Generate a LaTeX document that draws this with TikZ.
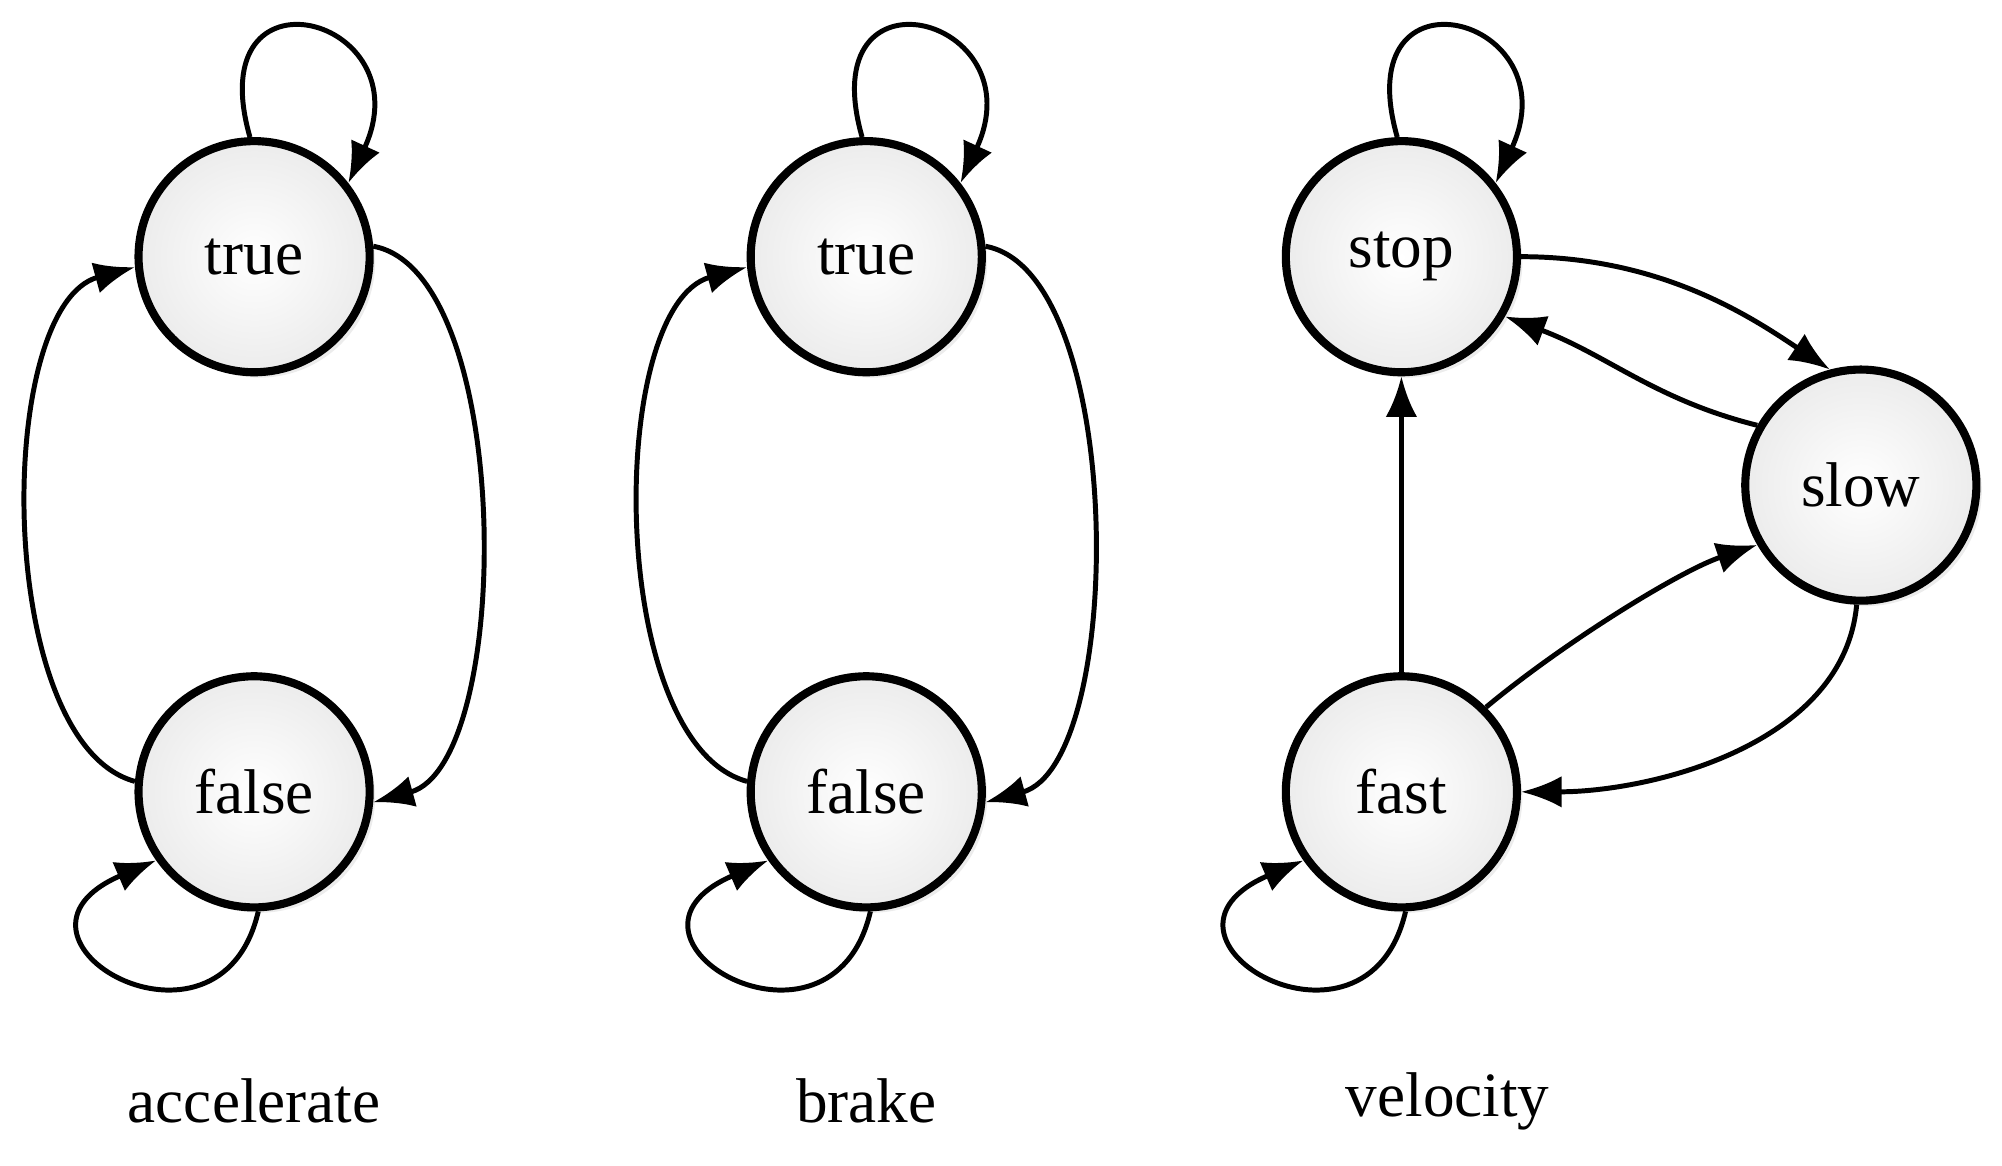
\documentclass[tikz,border=0pt]{standalone}
\usepackage{fontspec}
\setmainfont{Liberation Serif}
\usetikzlibrary{arrows.meta,shadows}
\begin{document}
\begin{tikzpicture}[x=0.01cm,y=-0.01cm,
 st/.style={circle,draw,line width=1.8pt,minimum size=1.8cm,inner sep=0pt,
   inner color=white,outer color=gray!15,
   drop shadow={shadow xshift=1.2pt,shadow yshift=-1.2pt,opacity=0.15},
   font=\fontsize{14}{16}\selectfont},
 ed/.style={line width=1.1pt,-{Latex[length=9pt,width=7pt]}},
 lab/.style={font=\fontsize{14}{16}\selectfont}]
\useasboundingbox (0,0) rectangle (1560,908);
\foreach \n/\x/\t/\f/\l in {a/198/true/false/accelerate,b/675/true/false/brake}{
 \node[st] (\n t) at (\x,200) {\t};
 \node[st] (\n f) at (\x,617) {\f};
 \node[lab] (\n l) at (\x,858) {\l};
 \draw[ed] (\n t.92) .. controls +(-40,-140) and +(60,-130) .. (\n t.38);
 \draw[ed] (\n t.5) .. controls +(110,20) and +(110,-30) .. (\n f.355);
 \draw[ed] (\n f.175) .. controls +(-110,-30) and +(-110,30) .. (\n t.185);
 \draw[ed] (\n f.272) .. controls +(-30,130) and +(-140,60) .. (\n f.215);
}
\node[st] (stop) at (1092,200) {stop};
\node[st] (slow) at (1450,378) {slow};
\node[st] (fast) at (1092,617) {fast};
\node[lab] (vl) at (1128,858) {velocity};
\draw[ed] (stop.92) .. controls +(-40,-140) and +(60,-130) .. (stop.38);
\draw[ed] (stop.0) .. controls +(110,0) and +(-60,-40) .. (slow.105);
\draw[ed] (slow.150) .. controls +(-80,-20) and +(80,30) .. (stop.330);
\draw[ed] (fast.90) -- (stop.270);
\draw[ed] (fast.45) .. controls +(60,-50) and +(-60,20) .. (slow.210);
\draw[ed] (slow.268) .. controls +(-10,110) and +(100,0) .. (fast.0);
\draw[ed] (fast.272) .. controls +(-30,130) and +(-140,60) .. (fast.215);
\end{tikzpicture}
\end{document}
